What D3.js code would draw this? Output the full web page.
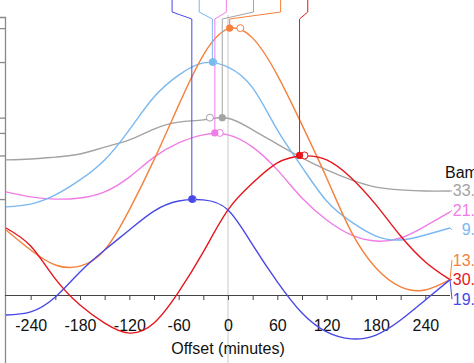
<!DOCTYPE html>
<html><head><meta charset="utf-8">
<script src="https://cdn.jsdelivr.net/npm/d3@7"></script>
<style>
body{margin:0;background:#fff;overflow:hidden;}
svg{display:block;font-family:"Liberation Sans",Arial,Helvetica,sans-serif;}
</style>
</head><body>
<svg id="c" width="474" height="363"></svg>
<script>
// ---- data ----
const offsets = [-270,-240,-210,-180,-150,-120,-90,-60,-30,0,30,60,90,120,150,180,210,240,270];
const seriesLabels = ["33.","21.","9.","13.","30.","19."];
const seriesColors = ["#a3a3a3","#f07de6","#7ab8f0","#f5813d","#e5161c","#4848e6"];
const grayValues   = [0.486,0.489,0.496,0.507,0.532,0.558,0.597,0.622,0.630,0.636,0.594,0.543,0.493,0.450,0.414,0.388,0.378,0.374,0.374];
const pinkValues   = [0.371,0.353,0.345,0.349,0.371,0.424,0.496,0.547,0.576,0.576,0.532,0.450,0.349,0.270,0.216,0.194,0.205,0.248,0.299];
const lblueValues  = [0.317,0.327,0.360,0.414,0.486,0.594,0.712,0.791,0.835,0.820,0.745,0.594,0.460,0.338,0.263,0.212,0.198,0.216,0.241];
const orangeValues = [0.234,0.162,0.108,0.104,0.162,0.306,0.486,0.683,0.863,0.957,0.924,0.791,0.612,0.421,0.227,0.097,0.029,0.018,0.055];
const redValues    = [0.241,0.176,0.058,-0.036,-0.101,-0.137,-0.101,0.011,0.155,0.306,0.403,0.475,0.500,0.486,0.421,0.324,0.212,0.119,0.055];
const blueValues   = [-0.072,-0.061,-0.007,0.083,0.162,0.234,0.302,0.338,0.342,0.306,0.180,0.047,-0.065,-0.133,-0.158,-0.144,-0.090,-0.018,0.055];
const allValues = [grayValues,pinkValues,lblueValues,orangeValues,redValues,blueValues];
const peakOffsets    = [-7,-16,-19,2,87,-44];
const peakValues     = [0.638,0.583,0.838,0.960,0.502,0.345];
const altPeakOffsets = [-22,-10,-18,15,93,-43];
const xTicks = [-240,-210,-180,-150,-120,-90,-60,-30,0,30,60,90,120,150,180,210,240];
const xLabelTicks = [-240,-180,-120,-60,0,60,120,180,240];
const legendTitle = "Bam";
const xTitle = "Offset (minutes)";

// ---- layout ----
const svg = d3.select("#c");
const x = d3.scaleLinear().domain([-270,270]).range([6,450]);
const y = d3.scaleLinear().domain([-0.25,1]).range([364.5,17]);

// zero line
svg.append("line").attr("x1",x(0)).attr("x2",x(0)).attr("y1",y(1)-2).attr("y2",370)
  .attr("stroke","#c8c8c8").attr("stroke-width",1);

// y axis
const ya = svg.append("g").attr("transform","translate(5,0)")
  .call(d3.axisLeft(y).tickValues(peakValues).tickSize(6).tickFormat(""));
ya.selectAll("path,line").attr("stroke","#8a8a8a").attr("stroke-width",1.3);

// x axis
const xa = svg.append("g").attr("transform",`translate(0,${y(0)})`)
  .call(d3.axisBottom(x).tickValues(xTicks).tickSize(5).tickSizeOuter(0)
    .tickPadding(20).tickFormat(d => xLabelTicks.includes(d) ? String(d) : ""));
xa.select("path").attr("stroke","#444").attr("d",`M${x(-270)-1},0.5H${x(270)}`);
xa.selectAll("line").attr("stroke","#444");
xa.selectAll("text").attr("font-size",16).attr("fill","#111")
  .attr("font-family","'Liberation Sans',Arial,sans-serif").attr("dy","0.71em");

svg.append("text").attr("x",(x(-270)+x(270))/2).attr("y",354).attr("text-anchor","middle")
  .attr("font-size",16).attr("fill","#111").text(xTitle);

// curves
const line = d3.line().x(d=>x(d[0])).y(d=>y(d[1])).curve(d3.curveNatural);
allValues.forEach((vals,i)=>{
  svg.append("path").datum(offsets.map((o,k)=>[o,vals[k]]))
    .attr("d",line).attr("fill","none").attr("stroke",seriesColors[i]).attr("stroke-width",1.4);
});

// peak leaders to top
const order = d3.range(6).sort((a,b)=>peakOffsets[a]-peakOffsets[b]);
order.forEach((i,slot)=>{
  const px = x(peakOffsets[i]), py = y(peakValues[i]);
  const sx = x(-68 + 33*slot);
  svg.append("path").attr("d",`M${px},${py}V19L${sx},12V-5`)
    .attr("fill","none").attr("stroke",seriesColors[i]).attr("stroke-width",1);
});
// peak markers
d3.range(6).forEach(i=>{
  svg.append("circle").attr("cx",x(altPeakOffsets[i])).attr("cy",y(peakValues[i])).attr("r",3.5)
    .attr("fill","#fff").attr("stroke",seriesColors[i]).attr("stroke-width",1);
  svg.append("circle").attr("cx",x(peakOffsets[i])).attr("cy",y(peakValues[i])).attr("r",3.6)
    .attr("fill",seriesColors[i]);
});

// right labels with simple collision relaxation
const ends = d3.range(6).map(i=>({i, y0:y(allValues[i][allValues[i].length-1])}));
ends.forEach(e=>e.y=e.y0);
ends.sort((a,b)=>a.y0-b.y0 || a.i-b.i);
const gap = 19.5;
for(let it=0; it<300; it++){
  for(let k=0;k<ends.length-1;k++){
    const a=ends[k], b=ends[k+1], ov=gap-(b.y-a.y);
    if(ov>0){a.y-=ov/2; b.y+=ov/2;}
  }
}
ends.forEach(e=>{
  svg.append("line").attr("x1",x(270)).attr("y1",e.y0).attr("x2",x(270)+2).attr("y2",e.y)
    .attr("stroke",seriesColors[e.i]).attr("stroke-width",1);
  svg.append("text").attr("x",475).attr("y",e.y).attr("dy","0.35em").attr("text-anchor","end")
    .attr("font-size",16).attr("fill",seriesColors[e.i]).text(seriesLabels[e.i]);
});
svg.append("text").attr("x",445).attr("y",172).attr("dy","0.35em")
  .attr("font-size",16).attr("fill","#111").text(legendTitle);
</script>
</body></html>
